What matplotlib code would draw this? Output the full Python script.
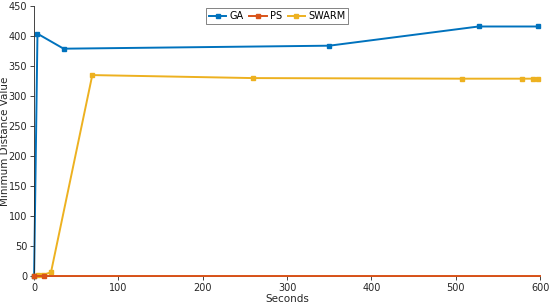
import matplotlib.pyplot as plt

ga_t = [0, 4, 35, 350, 527, 598]
ga_v = [0, 404, 379, 384, 416, 416]

ps_t = [0, 12, 600]
ps_v = [0, 0, 0]

swarm_t = [0, 5, 10, 20, 69, 259, 507, 578, 591, 597]
swarm_v = [0, 1, 2, 6, 335, 330, 329, 329, 329, 329]

xticks = [0, 100, 200, 300, 400, 500, 600]
yticks = [0, 50, 100, 150, 200, 250, 300, 350, 400, 450]

fig = plt.figure(figsize=(5.5, 3.05), dpi=100)
ax = fig.add_axes([0.062, 0.095, 0.92, 0.885])

ax.plot(ga_t, ga_v, color='#0072BD', lw=1.4, marker='s', ms=2.5, label='GA',
        clip_on=False)
ax.plot(ps_t, ps_v, color='#D95319', lw=1.4, marker='s', ms=2.5,
        markevery=[0, 1], label='PS', zorder=5, clip_on=False)
ax.plot(swarm_t, swarm_v, color='#EDB120', lw=1.4, marker='s', ms=2.5,
        label='SWARM', clip_on=False, zorder=4)

ax.set_xlim(0, 600)
ax.set_ylim(0, 450)
ax.set_xticks(xticks)
ax.set_yticks(yticks)
ax.spines['top'].set_visible(False)
ax.spines['right'].set_visible(False)
for s in ['left', 'bottom']:
    ax.spines[s].set_color('#262626')
    ax.spines[s].set_linewidth(0.6)
ax.tick_params(direction='out', length=3, width=0.6, labelsize=7,
               colors='#262626', pad=2)
ax.set_xlabel('Seconds', fontsize=7.5, color='#262626', labelpad=1)
ax.set_ylabel('Minimum Distance Value', fontsize=7.5, color='#262626')
ax.yaxis.set_label_coords(-0.048, 0.5)

leg = ax.legend(loc='upper center', bbox_to_anchor=(0.48, 1.0), ncol=3,
                fontsize=7, frameon=True, fancybox=False, handlelength=1.8,
                handletextpad=0.3, columnspacing=0.6, borderpad=0.3,
                borderaxespad=0.2)
leg.get_frame().set_edgecolor('#262626')
leg.get_frame().set_linewidth(0.5)

fig.savefig('out.png', dpi=100)
